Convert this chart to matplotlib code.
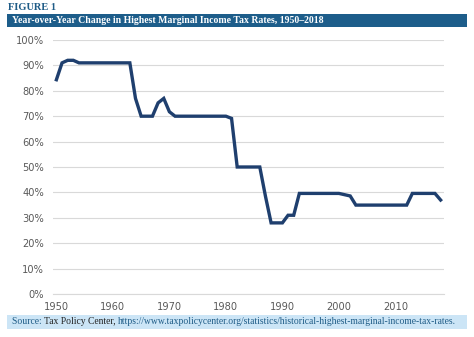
import numpy as np
import matplotlib.pyplot as plt
from matplotlib.patches import Rectangle

years = list(range(1950, 2019))
rates = ([84.36, 91, 92, 92] + [91] * 10 + [77, 70, 70, 70, 75.25, 77, 71.75]
         + [70] * 10 + [69.13] + [50] * 5 + [38.5, 28, 28, 28, 31, 31]
         + [39.6] * 8 + [39.1, 38.6] + [35] * 10 + [39.6] * 5 + [37])
xticks = [1950, 1960, 1970, 1980, 1990, 2000, 2010]
yticks = list(range(0, 101, 10))

title = "Year-over-Year Change in Highest Marginal Income Tax Rates, 1950\u20132018"
source_url = "https://www.taxpolicycenter.org/statistics/historical-highest-marginal-income-tax-rates."

W, H = 474, 337
fig = plt.figure(figsize=(W / 100, H / 100), dpi=100)
fig.patch.set_facecolor("white")

ax = fig.add_axes([53 / W, 1 - 294 / H, (444 - 53) / W, (294 - 40) / H])
ax.plot(years, rates, color="#1F3F6E", lw=2.4, solid_joinstyle="miter", clip_on=False)
ax.set_xlim(1949.4, 2018.6)
ax.set_ylim(0, 100)
ax.set_yticks(yticks)
ax.set_yticklabels([f"{t}%" for t in yticks])
ax.set_xticks(xticks)
ax.grid(axis="y", color="#D9D9D9", lw=0.8)
ax.set_axisbelow(True)
for s in ["top", "right", "left"]:
    ax.spines[s].set_visible(False)
ax.spines["bottom"].set_color("#D9D9D9")
ax.tick_params(length=0, labelsize=7.1, colors="#595959", pad=6.5)
ax.tick_params(axis="x", pad=5.5)

# header
fig.text(8 / W, 1 - 8 / H, "FIGURE 1", family="Liberation Serif", fontweight="bold",
         fontsize=7.5, color="#1F5C87", va="center")
fig.patches.append(Rectangle((7 / W, 1 - 27 / H), 460 / W, 13 / H,
                             transform=fig.transFigure, facecolor="#1D5D8A", edgecolor="none"))
fig.text(12 / W, 1 - 20.5 / H, title, family="Liberation Serif", fontweight="bold",
         fontsize=7.0, color="white", va="center")

# source bar
fig.patches.append(Rectangle((7 / W, 1 - 329 / H), 460 / W, 14 / H,
                             transform=fig.transFigure, facecolor="#CCE5F6", edgecolor="none"))
t1 = fig.text(12 / W, 1 - 322 / H, "Source: ", family="Liberation Serif", fontsize=6.9,
              color="#1F5C87", va="center")
fig.canvas.draw()
r = fig.canvas.get_renderer()
x = 12 + t1.get_window_extent(r).width
t2 = fig.text(x / W, 1 - 322 / H, "Tax Policy Center, ", family="Liberation Serif", fontsize=6.9,
              color="#222222", va="center")
x += t2.get_window_extent(r).width
fig.text(x / W, 1 - 322 / H, source_url, family="Liberation Serif", fontsize=6.9,
         color="#1F5C87", va="center")

fig.savefig("out.png", dpi=100)
